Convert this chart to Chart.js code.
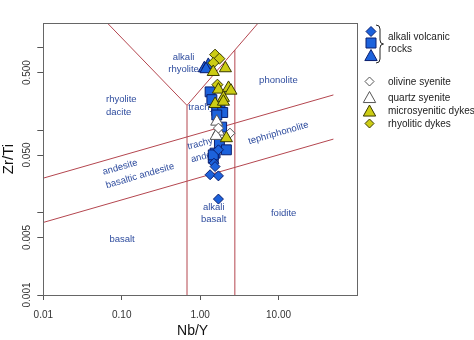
<!DOCTYPE html>
<html>
<head>
<meta charset="utf-8">
<script src="https://cdn.jsdelivr.net/npm/chart.js@4.4.0/dist/chart.umd.min.js"></script>
<style>
  html, body { margin: 0; padding: 0; background: #fff; }
  #wrap { width: 474px; height: 340px; }
</style>
</head>
<body>
<div id="wrap"><canvas id="myChart" width="474" height="340"></canvas></div>
<script>
// ---- data (Nb/Y vs Zr/Ti) ----
const volcDiamondNb = [1.71, 1.34, 1.71, 1.50, 1.55, 1.71];
const volcDiamondZr = [0.0146, 0.0288, 0.0279, 0.0398, 0.0362, 0.0578];
const volcSquareNb = [1.34, 1.41, 1.79, 1.63, 1.94, 1.63, 1.88, 1.76, 2.16, 1.55, 1.47, 1.47];
const volcSquareZr = [0.292, 0.235, 0.178, 0.173, 0.164, 0.153, 0.109, 0.0697, 0.0578, 0.0527, 0.0458, 0.0502];
const volcTriNb = [1.13, 1.27, 1.19];
const volcTriZr = [0.565, 0.62, 0.55];
const olivineNb = [2.40, 1.71];
const olivineZr = [0.092, 0.106];
const quartzNb = [1.63, 1.71, 1.60];
const quartzZr = [0.127, 0.0962, 0.0853];
const microNb = [1.47, 2.10, 1.71, 2.30, 2.47, 1.98, 1.55, 1.98, 2.16];
const microZr = [0.509, 0.565, 0.311, 0.326, 0.302, 0.247, 0.208, 0.222, 0.080];
const rhyDykeNb = [1.55, 1.76, 1.47, 1.66];
const rhyDykeZr = [0.826, 0.738, 0.655, 0.357];

// field boundaries
const lowerBoundNb = [0.01, 50];
const lowerBoundZr = [0.0076, 0.078];
const upperBoundNb = [0.01, 50];
const upperBoundZr = [0.0262, 0.268];
const vNb = [0.0655, 0.68, 5.5];
const vZr = [2, 0.2, 2];
const leftWallNb = [0.68, 0.68];
const leftWallZr = [0.001, 0.2];
const rightWallNb = [2.77, 2.77];
const rightWallZr = [0.001, 0.94];

// ticks
const xTicks = [0.01, 0.1, 1, 10];
const xTickLabels = ['0.01', '0.10', '1.00', '10.00'];
const yTicks = [1, 0.5, 0.1, 0.05, 0.01, 0.005, 0.001];
const yLabelValues = [0.5, 0.05, 0.005, 0.001];
const yLabelText = ['0.500', '0.050', '0.005', '0.001'];

// field names: text, Nb/Y, Zr/Ti, rotation (deg), align
const fieldNames = [
    ['alkali\nrhyolite', 0.614, 0.646, 0, 'center'],
    ['rhyolite\ndacite', 0.063, 0.197, 0, 'left'],
    ['phonolite', 9.95, 0.40, 0, 'center'],
    ['trachyte', 0.707, 0.190, 0, 'left'],
    ['trachy', 0.690, 0.0628, -14, 'left'],
    ['andesite', 0.766, 0.0437, -14, 'left'],
    ['tephriphonolite', 9.95, 0.092, -16, 'center'],
    ['andesite', 0.0951, 0.0354, -16, 'center'],
    ['basaltic andesite', 0.171, 0.0279, -16, 'center'],
    ['alkali\nbasalt', 1.49, 0.00973, 0, 'center'],
    ['foidite', 11.6, 0.00987, 0, 'center'],
    ['basalt', 0.101, 0.00469, 0, 'center']
];

const BLUE = '#1c62dc', BLUE_EDGE = '#0a1e6e';
const YEL = '#cccc14', YEL_EDGE = '#3a3a00';
const RED = '#b4464f';
const FONT = '"Liberation Sans", Arial, sans-serif';

function pts(xs, ys) { return xs.map((x, i) => ({ x: x, y: ys[i] })); }

function boundary(xs, ys) {
    return {
        type: 'line', data: pts(xs, ys), borderColor: RED, borderWidth: 1,
        pointRadius: 0, fill: false, tension: 0, order: 10
    };
}

function marker(xs, ys, style, r, bg, edge, order) {
    return {
        type: 'scatter', data: pts(xs, ys), pointStyle: style, pointRadius: r,
        backgroundColor: bg, borderColor: edge, borderWidth: 1, order: order
    };
}

function shape(ctx, style, x, y, r) {
    ctx.beginPath();
    if (style === 'diamond') {
        ctx.moveTo(x, y - r); ctx.lineTo(x + r, y); ctx.lineTo(x, y + r); ctx.lineTo(x - r, y);
    } else if (style === 'square') {
        ctx.rect(x - r, y - r, 2 * r, 2 * r);
    } else {
        ctx.moveTo(x, y - r); ctx.lineTo(x + r * 0.95, y + r * 0.7); ctx.lineTo(x - r * 0.95, y + r * 0.7);
    }
    ctx.closePath();
    ctx.fill();
    ctx.stroke();
}

const decor = {
    id: 'decor',
    beforeDatasetsDraw(chart) {
        const ctx = chart.ctx, sx = chart.scales.x, sy = chart.scales.y;
        ctx.save();
        ctx.fillStyle = '#2e4c9e';
        ctx.font = '9.5px ' + FONT;
        ctx.textBaseline = 'middle';
        fieldNames.forEach(f => {
            const lines = f[0].split('\n');
            ctx.save();
            ctx.translate(sx.getPixelForValue(f[1]), sy.getPixelForValue(f[2]));
            ctx.rotate(f[3] * Math.PI / 180);
            ctx.textAlign = f[4];
            lines.forEach((t, i) => ctx.fillText(t, 0, (i - (lines.length - 1) / 2) * 12.5));
            ctx.restore();
        });
        ctx.restore();
    },
    afterDatasetsDraw(chart) {
        const ctx = chart.ctx, a = chart.chartArea, sy = chart.scales.y;
        ctx.save();
        // frame
        ctx.strokeStyle = '#666';
        ctx.lineWidth = 1;
        ctx.strokeRect(Math.round(a.left) + 0.5, Math.round(a.top) + 0.5,
            Math.round(a.right - a.left), Math.round(a.bottom - a.top));
        // rotated y tick labels
        ctx.fillStyle = '#333';
        ctx.font = '10px ' + FONT;
        ctx.textAlign = 'center';
        ctx.textBaseline = 'middle';
        yLabelValues.forEach((v, i) => {
            ctx.save();
            ctx.translate(27, sy.getPixelForValue(v));
            ctx.rotate(-Math.PI / 2);
            ctx.fillText(yLabelText[i], 0, 0);
            ctx.restore();
        });
        // axis titles
        ctx.fillStyle = '#111';
        ctx.font = '15px ' + FONT;
        ctx.save();
        ctx.translate(9, (a.top + a.bottom) / 2);
        ctx.rotate(-Math.PI / 2);
        ctx.fillText('Zr/Ti', 0, 0);
        ctx.restore();
        ctx.font = '14px ' + FONT;
        ctx.fillText('Nb/Y', a.left + (a.right - a.left) * 0.476, 331);

        // legend
        const lx = 371;
        ctx.lineWidth = 1;
        ctx.fillStyle = BLUE; ctx.strokeStyle = BLUE_EDGE;
        shape(ctx, 'diamond', lx, 31.5, 5);
        shape(ctx, 'square', lx, 43, 5);
        shape(ctx, 'tri', lx, 56, 6.5);
        // brace
        ctx.strokeStyle = '#222';
        ctx.beginPath();
        ctx.moveTo(376, 25);
        ctx.quadraticCurveTo(380, 25, 380, 29);
        ctx.lineTo(380, 40);
        ctx.quadraticCurveTo(380, 44, 383.5, 44);
        ctx.quadraticCurveTo(380, 44, 380, 48);
        ctx.lineTo(380, 59);
        ctx.quadraticCurveTo(380, 63, 376, 63);
        ctx.stroke();

        ctx.fillStyle = '#fff'; ctx.strokeStyle = '#555';
        shape(ctx, 'diamond', 369.5, 81.5, 4.5);
        shape(ctx, 'tri', 369.5, 98, 6.5);
        ctx.fillStyle = YEL; ctx.strokeStyle = YEL_EDGE;
        shape(ctx, 'tri', 369.5, 111.5, 6.5);
        shape(ctx, 'diamond', 369.5, 123.5, 4.5);

        ctx.fillStyle = '#222';
        ctx.font = '10px ' + FONT;
        ctx.textAlign = 'left';
        ctx.fillText('alkali volcanic', 388, 37);
        ctx.fillText('rocks', 388, 49.5);
        ctx.fillText('olivine syenite', 388, 82);
        ctx.fillText('quartz syenite', 388, 98);
        ctx.fillText('microsyenitic dykes', 388, 111.5);
        ctx.fillText('rhyolitic dykes', 388, 124);
        ctx.restore();
    }
};

const ctx = document.getElementById('myChart').getContext('2d');
const myChart = new Chart(ctx, {
    type: 'scatter',
    data: {
        datasets: [
            boundary(lowerBoundNb, lowerBoundZr),
            boundary(upperBoundNb, upperBoundZr),
            boundary(vNb, vZr),
            boundary(leftWallNb, leftWallZr),
            boundary(rightWallNb, rightWallZr),
            marker(volcDiamondNb, volcDiamondZr, 'rectRot', 5, BLUE, BLUE_EDGE, 6),
            marker(volcSquareNb, volcSquareZr, 'rect', 7, BLUE, BLUE_EDGE, 6),
            marker(volcTriNb, volcTriZr, 'triangle', 7, BLUE, BLUE_EDGE, 6),
            marker(olivineNb, olivineZr, 'rectRot', 5, '#fff', '#555', 5),
            marker(quartzNb, quartzZr, 'triangle', 7, '#fff', '#555', 5),
            marker(rhyDykeNb, rhyDykeZr, 'rectRot', 5.5, YEL, YEL_EDGE, 4),
            marker(microNb, microZr, 'triangle', 7, YEL, YEL_EDGE, 3)
        ]
    },
    options: {
        responsive: false,
        animation: false,
        layout: { padding: { top: 23, right: 117, left: 0, bottom: 0 } },
        plugins: {
            legend: { display: false },
            tooltip: { enabled: false }
        },
        scales: {
            x: {
                type: 'logarithmic',
                min: 0.01,
                max: 100,
                afterBuildTicks: s => { s.ticks = xTicks.map(v => ({ value: v })); },
                afterFit: s => { s.height = 45; },
                ticks: {
                    color: '#333',
                    font: { size: 10, family: FONT },
                    padding: 9,
                    maxRotation: 0,
                    autoSkip: false,
                    callback: v => xTickLabels[xTicks.indexOf(v)]
                },
                grid: { drawOnChartArea: false, drawTicks: true, tickLength: 5, color: '#555' },
                border: { display: false }
            },
            y: {
                type: 'logarithmic',
                min: 0.001,
                max: 2,
                afterBuildTicks: s => { s.ticks = yTicks.map(v => ({ value: v })); },
                afterFit: s => { s.width = 43.3; },
                ticks: { display: false },
                grid: { drawOnChartArea: false, drawTicks: true, tickLength: 6, color: '#555' },
                border: { display: false }
            }
        }
    },
    plugins: [decor]
});
</script>
</body>
</html>
